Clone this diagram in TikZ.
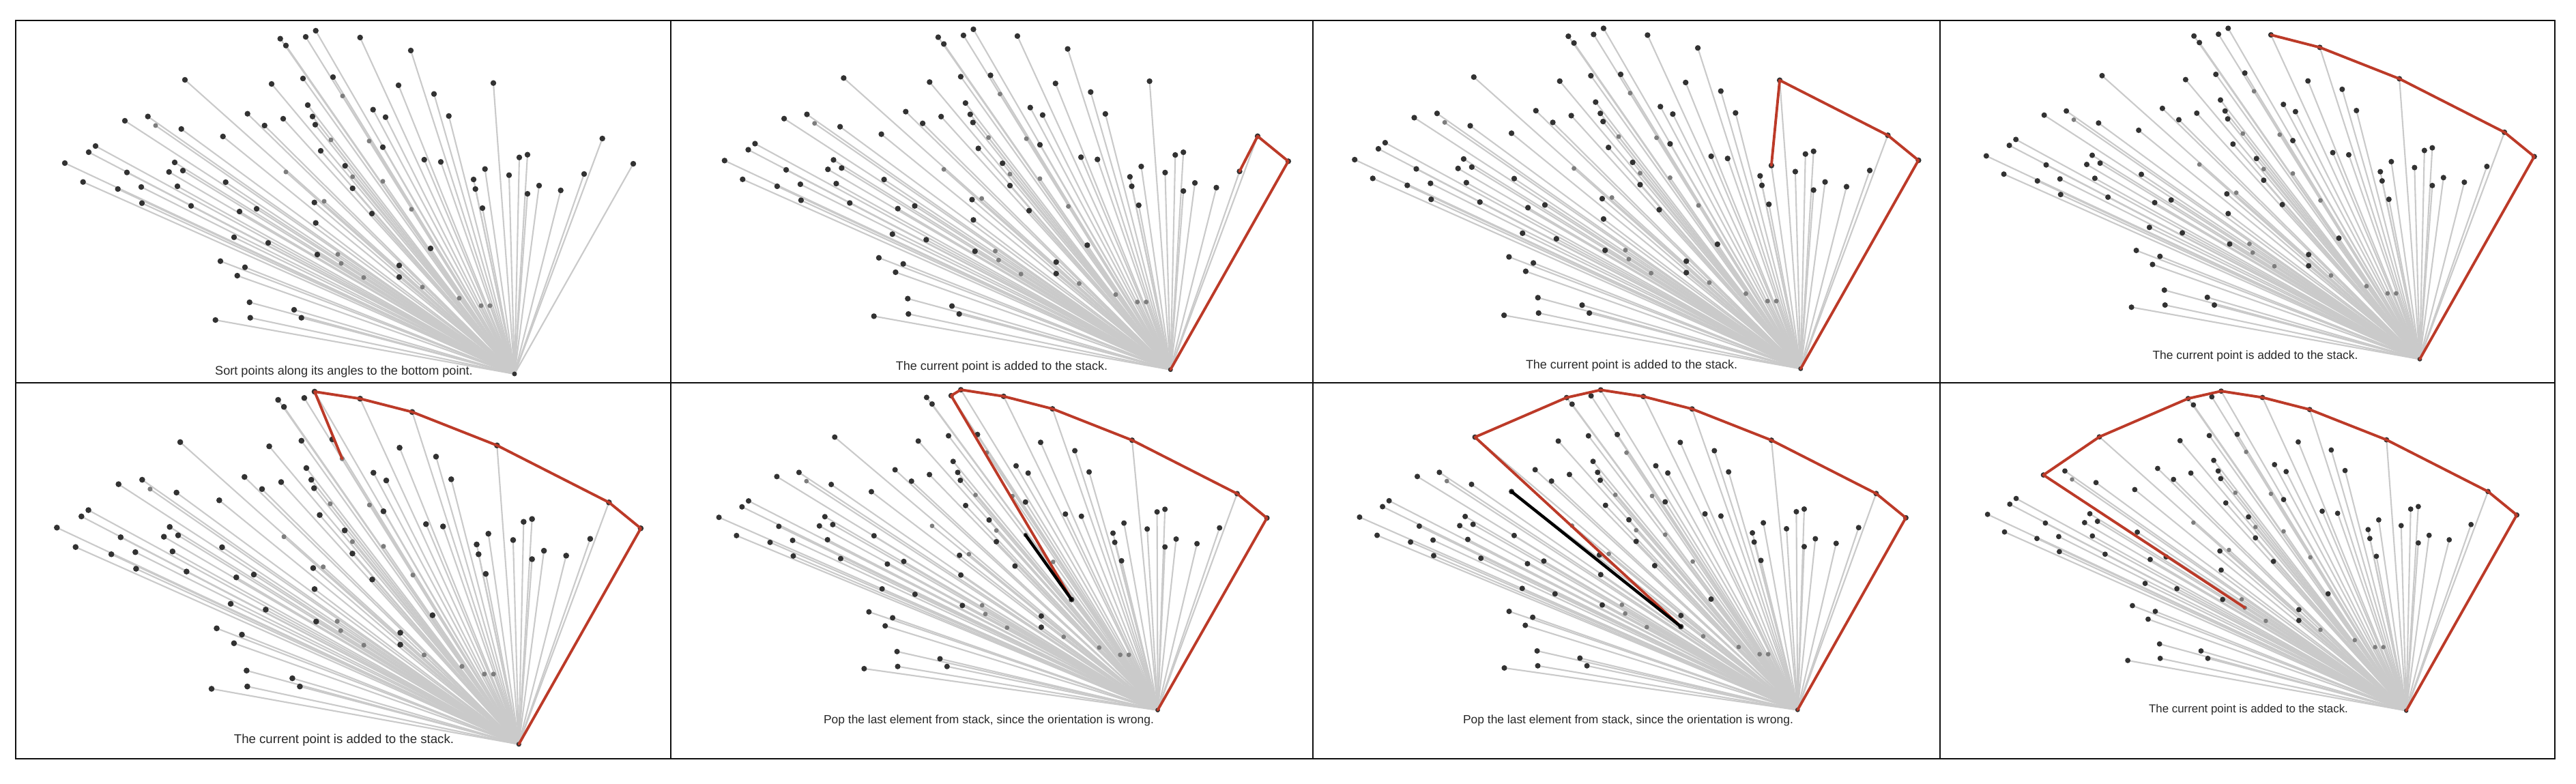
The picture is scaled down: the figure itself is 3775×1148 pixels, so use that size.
\documentclass[tikz,border=0pt]{standalone}
\usepackage{fontspec}
\newfontfamily\capfont{Liberation Sans}
\definecolor{hullred}{RGB}{188,58,40}
\definecolor{raygray}{RGB}{202,202,202}
\definecolor{dotgray}{RGB}{50,50,50}
\definecolor{faintgray}{RGB}{125,125,125}
\definecolor{captext}{RGB}{40,40,40}
\definecolor{gridline}{RGB}{15,15,15}

\newcommand{\ptsdark}{410.7/56.7, 419/66.7, 448/54, 462.7/45, 271/117, 398/123, 444/115, 488/113, 451/154, 458/170.7, 462/182.7, 362.7/166.7, 415/174, 387.7/184, 183/177, 216.7/170.7, 265.7/189, 326.7/200, 470/221, 140/214, 130/223, 95/239, 256/238, 247.7/252, 268/250, 186/252.7, 505.7/243, 121.7/266.7, 330.7/267, 172.7/277, 207/274, 260/273, 516.7/276, 208/297.7, 280/301.7, 351/310, 376/306, 460.7/296.7, 527.7/55, 602/74, 584/125, 636/137.7, 657.7/170, 723/121.7, 546.7/160.7, 565/171.7, 561/215.7, 621.7/234, 646/237.3, 710.7/247.7, 694/263, 696.7/277, 746/256.7, 761/230.7, 773/226.7, 790/272, 773/284, 821.7/279, 856/255, 882.7/203, 928/240, 545/313, 707/305, 462.7/326.7, 343/347.7, 393/356, 465/373, 323/382.7, 359/391.7, 347.7/404, 365.7/443, 431/454, 441.7/465.7, 315.7/469, 366.7/465.7, 631/364, 585/389, 585/406}
\newcommand{\ptsfaint}{502/140.7, 228/184, 485/205, 419/252, 516.7/259, 475/295, 541/206.7, 561/265.7, 603/306.7, 495/372.7, 500/386, 533/406.7, 619/420.7, 673/437, 705/448, 718/448}

% point cloud of one panel, #1/#2 = bottom point
\newcommand{\cloud}[2]{%
  \coordinate (B) at (#1,#2);
  \foreach \px/\py in \ptsdark {\draw[ray] (\px,\py) -- (B);}
  \foreach \px/\py in \ptsfaint {\draw[ray] (\px,\py) -- (B);}
  \foreach \px/\py in \ptsdark {\fill[dotgray] (\px,\py) circle[radius=1.2pt];}
  \foreach \px/\py in \ptsfaint {\fill[faintgray] (\px,\py) circle[radius=1pt];}
  \fill[dotgray] (B) circle[radius=1pt];
  \coordinate (h1) at (410.7,56.7);
  \coordinate (h3) at (448,54);
  \coordinate (h4) at (462.7,45);
  \coordinate (h5) at (271,117);
  \coordinate (h9) at (502,140.7);
  \coordinate (h16) at (183,177);
  \coordinate (h20) at (326.7,200);
  \coordinate (h45) at (527.7,55);
  \coordinate (h46) at (602,74);
  \coordinate (h50) at (723,121.7);
  \coordinate (h57) at (710.7,247.7);
  \coordinate (h66) at (856,255);
  \coordinate (h67) at (882.7,203);
  \coordinate (h68) at (928,240);
  \coordinate (h69) at (561,265.7);
  \coordinate (h78) at (500,386);
  \coordinate (h87) at (631,364);
  \coordinate (h89) at (585,406);
}
\newcommand{\capsz}[1]{\capfont\fontsize{#1}{#1}\selectfont}

\begin{document}
\begin{tikzpicture}[x=0.01cm,y=-0.01cm,
  ray/.style={raygray, line width=0.6pt},
  hull/.style={hullred, line width=1.1pt, line join=round, line cap=round},
  popped/.style={black, line width=1.25pt, line cap=round},
  captxt/.style={text=captext, inner sep=0pt, anchor=center},
  framebox/.style={gridline, line width=0.75pt}]
\useasboundingbox (0,0) rectangle (3775,1148);
\fill[white] (0,0) rectangle (3775,1148);

% panel 1
\begin{scope}
  \cloud{754}{548}
\end{scope}
% panel 2
\begin{scope}[shift={(967.6,-1.7)}, scale=0.9917]
  \cloud{754}{548}
  \draw[hull] (B) -- (h68) -- (h67) -- (h66);
\end{scope}
% panel 3
\begin{scope}[shift={(1891,-3.1)}, scale=0.9918]
  \cloud{754}{548}
  \draw[hull] (B) -- (h68) -- (h67) -- (h50) -- (h57);
\end{scope}
% panel 4
\begin{scope}[shift={(2819.2,-1.9)}, scale=0.964]
  \cloud{754}{548}
  \draw[hull] (B) -- (h68) -- (h67) -- (h50) -- (h46) -- (h45);
\end{scope}
% panel 5
\begin{scope}[shift={(-14.2,527.8)}, scale=1.027]
  \cloud{754}{548}
  \draw[hull] (B) -- (h68) -- (h67) -- (h50) -- (h46) -- (h45) -- (h4) -- (h9);
\end{scope}
% panel 6
\begin{scope}[shift={(962,527.8)}, scale=0.964]
  \cloud{762}{532}
  \draw[hull] (B) -- (h68) -- (h67) -- (h50) -- (h46) -- (h45) -- (h4) -- (h3) -- (h87);
  \draw[popped] (h69) -- (h87);
\end{scope}
% panel 7
\begin{scope}[shift={(1901.1,528.2)}, scale=0.961]
  \cloud{763}{533}
  \draw[hull] (B) -- (h68) -- (h67) -- (h50) -- (h46) -- (h45) -- (h4) -- (h1) -- (h5) -- (h89);
  \draw[popped] (h20) -- (h89);
\end{scope}
% panel 8
\begin{scope}[shift={(2824.2,531.3)}, scale=0.931]
  \cloud{754}{548}
  \draw[hull] (B) -- (h68) -- (h67) -- (h50) -- (h46) -- (h45) -- (h4) -- (h1) -- (h5) -- (h16) -- (h78);
\end{scope}

% captions
\node[captxt, font=\capsz{5.15}] (c1) at (504,545) {Sort points along its angles to the bottom point.};
\node[captxt, font=\capsz{5.1}] (c2) at (1468,538) {The current point is added to the stack.};
\node[captxt, font=\capsz{5.1}] (c3) at (2391,536) {The current point is added to the stack.};
\node[captxt, font=\capsz{4.95}] (c4) at (3305,522) {The current point is added to the stack.};
\node[captxt, font=\capsz{5.3}] (c5) at (504,1085) {The current point is added to the stack.};
\node[captxt, font=\capsz{4.95}] (c6) at (1449,1056) {Pop the last element from stack, since the orientation is wrong.};
\node[captxt, font=\capsz{4.95}] (c7) at (2386,1056) {Pop the last element from stack, since the orientation is wrong.};
\node[captxt, font=\capsz{4.8}] (c8) at (3295,1040) {The current point is added to the stack.};

% table grid
\draw[framebox] (23,30) rectangle (3744,1112);
\draw[framebox] (983,30) -- (983,1112);
\draw[framebox] (1924,30) -- (1924,1112);
\draw[framebox] (2843,30) -- (2843,1112);
\draw[framebox] (23,561) -- (3744,561);
\end{tikzpicture}
\end{document}
